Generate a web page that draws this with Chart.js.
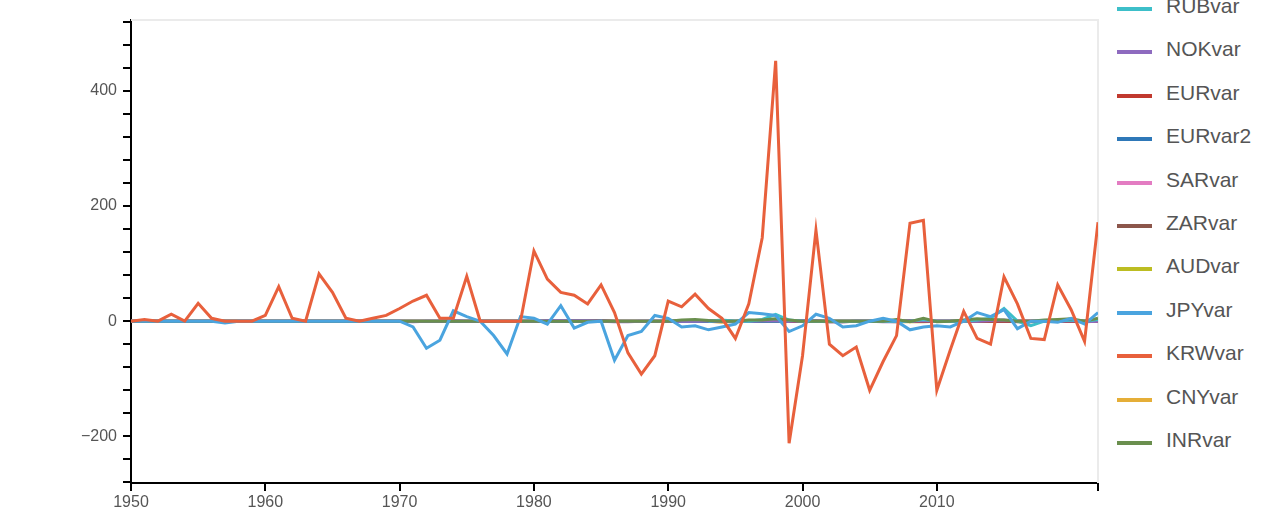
<!DOCTYPE html>
<html><head><meta charset="utf-8">
<script src="https://cdn.jsdelivr.net/npm/chart.js@4"></script>
<style>
body{margin:0;background:#fff;width:1282px;height:522px;overflow:hidden;position:relative;font-family:"Liberation Sans",Arial,sans-serif}
#wrap{position:absolute;left:0;top:0;width:1110px;height:522px}
#legend{position:absolute;left:1117px;top:0;}
.it{position:absolute;left:0;width:160px;height:30px;font-size:21px;color:#555}
.it span.sw{position:absolute;left:0;top:13px;width:35px;height:4px}
.it span.tx{position:absolute;left:49px;top:0px}
</style></head><body>
<div id="wrap"><canvas id="c" width="1110" height="522"></canvas></div>
<div id="legend"></div>
<script>
const years=[];for(let y=1950;y<=2022;y++)years.push(y);
const KRWvar=[0,3,0,12,0,31,5,0,0,0,10,60,5,0,82,50,5,0,5,10,22,35,45,5,5,78,0,0,0,0,122,73,50,45,30,63,15,-55,-92,-60,35,25,47,22,5,-30,30,145,452,-212,-60,158,-40,-60,-45,-120,-70,-25,170,175,-120,-50,17,-30,-40,77,30,-30,-32,63,20,-35,172];
const JPYvar=[0,0,0,0,0,0,0,-3,0,0,0,0,0,0,0,0,0,0,0,0,0,-10,-47,-33,18,8,0,-25,-57,8,5,-5,27,-12,-2,0,-68,-25,-18,10,5,-10,-8,-15,-10,-5,15,13,10,-18,-8,12,5,-10,-8,0,5,0,-15,-10,-8,-10,0,15,8,20,-13,0,0,-2,5,-5,15];
const RUBvar=[null,null,null,null,null,null,null,null,null,null,null,null,null,null,null,null,null,null,null,null,null,null,null,null,null,null,null,null,null,null,null,null,null,null,null,null,null,null,null,null,null,null,null,0,2,0,0,3,12,2,0,0,0,0,0,0,0,0,0,3,0,0,0,2,5,22,0,-8,0,0,2,0,3];
const NOKvar=[0,0,0,0,0,0,0,0,0,0,0,0,0,0,0,0,0,0,0,0,0,-1,0,0,1,0,0,0,0,0,0,1,1,1,1,0,-1,-1,0,0,0,0,0,1,0,-1,0,1,1,0,1,0,-1,-1,0,0,-1,-1,0,1,0,0,0,0,1,2,0,0,0,0,1,-1,0];
const EURvar=[null,null,null,null,null,null,null,null,null,null,null,null,null,null,null,null,null,null,null,null,null,null,null,null,null,null,null,null,null,null,null,null,null,null,null,null,null,null,null,null,null,null,null,null,null,null,null,null,null,0,0,0,0,0,0,0,0,0,0,0,0,0,0,0,0,0,0,0,0,0,0,0,0];
const EURvar2=[0,0,0,0,0,0,0,0,0,0,0,0,0,0,0,0,0,0,0,0,0,0,0,0,0,0,0,0,0,0,0,0,0,0,0,0,0,0,0,0,0,0,0,0,0,0,0,0,0,0,0,0,0,0,0,0,0,0,0,0,0,0,0,0,0,0,0,0,0,0,0,0,2];
const SARvar=[0,0,0,0,0,0,0,0,0,0,0,0,0,0,0,0,0,0,0,0,0,0,0,0,0,0,0,0,0,0,0,0,0,0,0,0,0,0,0,0,0,0,0,0,0,0,0,0,0,0,0,0,0,0,0,0,0,0,0,0,0,0,0,0,0,0,0,0,0,0,0,0,0];
const ZARvar=[0,0,0,0,0,0,0,0,0,0,0,0,0,0,0,0,0,0,0,0,0,0,0,0,0,0,0,0,0,0,0,0,0,0,1,1,0,0,0,0,0,0,0,0,1,0,0,0,1,0,0,1,-1,-1,0,0,0,0,1,0,0,0,0,1,1,1,-1,-1,0,0,1,0,0];
const AUDvar=[0,0,0,0,0,0,0,0,0,0,0,0,0,0,0,0,0,0,0,0,0,0,0,0,0,0,0,0,0,0,0,0,0,0,0,1,0,0,0,0,0,0,0,0,0,0,0,0,0,0,0,0,0,0,0,0,0,0,0,0,0,0,0,0,0,0,0,0,0,0,0,0,0];
const CNYvar=[0,0,0,0,0,0,0,0,0,0,0,0,0,0,0,0,0,0,0,0,0,0,0,0,0,0,0,0,0,0,0,0,0,0,0,0,0,0,0,0,0,0,0,0,-2,0,0,0,0,0,0,0,0,0,0,0,0,-1,-1,-1,0,0,0,0,0,0,0,0,0,0,0,0,0];
const INRvar=[0,0,0,0,0,0,0,0,0,0,0,0,0,0,0,0,0,0,0,0,0,0,0,0,0,0,0,0,0,0,0,0,0,0,0,0,0,0,0,0,0,2,3,1,0,0,2,2,4,2,0,0,0,0,0,0,0,3,-1,5,-1,0,2,4,3,2,0,0,2,3,4,0,5];
const names=["RUBvar","NOKvar","EURvar","EURvar2","SARvar","ZARvar","AUDvar","JPYvar","KRWvar","CNYvar","INRvar"];
const series=[RUBvar,NOKvar,EURvar,EURvar2,SARvar,ZARvar,AUDvar,JPYvar,KRWvar,CNYvar,INRvar];
const colors=["#3dbfc9","#8e6bbf","#c1392e","#2e78b8","#e37cc2","#8c564b","#bcbd22","#4aa4df","#e8603c","#e5ae38","#6a8f4e"];
const order=[0,1,2,3,4,5,6,9,10,7,8];
const datasets=order.map(i=>({label:names[i],data:series[i].map((v,k)=>({x:years[k],y:v})),borderColor:colors[i],borderWidth:3,pointRadius:0,tension:0,spanGaps:false,order:(i===8?0:(i===7?1:(i===10?2:3)))}));
const lg=document.getElementById('legend');
names.forEach((n,i)=>{const d=document.createElement('div');d.className='it';d.style.top=(-6+i*43.4)+'px';d.innerHTML=`<span class="sw" style="background:${colors[i]}"></span><span class="tx">${n}</span>`;lg.appendChild(d);});
const frame={id:'frame',beforeDatasetsDraw(c){const a=c.chartArea,x=c.ctx;x.save();x.strokeStyle='#ebebeb';x.lineWidth=2;x.beginPath();x.moveTo(a.left,a.top);x.lineTo(a.right,a.top);x.lineTo(a.right,a.bottom);x.stroke();x.restore();}};
new Chart(document.getElementById('c'),{type:'line',data:{datasets},plugins:[frame],
options:{responsive:false,animation:false,devicePixelRatio:1,
layout:{padding:{left:0,right:12,top:20,bottom:0}},
plugins:{legend:{display:false},tooltip:{enabled:false}},
scales:{
x:{type:'linear',min:1950,max:2022,afterFit:s=>{s.height=39;},border:{color:'#000',width:2},grid:{drawOnChartArea:false,color:'#000',tickLength:8,lineWidth:2},
ticks:{stepSize:10,maxRotation:0,autoSkip:false,color:'#555',font:{size:16,family:'Liberation Sans'},padding:2,callback:v=>v%10===0?String(v):''}},
y:{min:-281,max:523,afterFit:s=>{s.width=131;},afterBuildTicks:s=>{const t=[];for(let v=-280;v<=520;v+=40)t.push({value:v});s.ticks=t;},
border:{color:'#000',width:2},grid:{drawOnChartArea:false,color:'#000',tickLength:8,lineWidth:2},
ticks:{autoSkip:false,color:'#555',font:{size:16,family:'Liberation Sans'},padding:6,callback:v=>v%200===0?(v<0?'\u2212'+(-v):String(v)):''}}
}}});
</script>
</body></html>
